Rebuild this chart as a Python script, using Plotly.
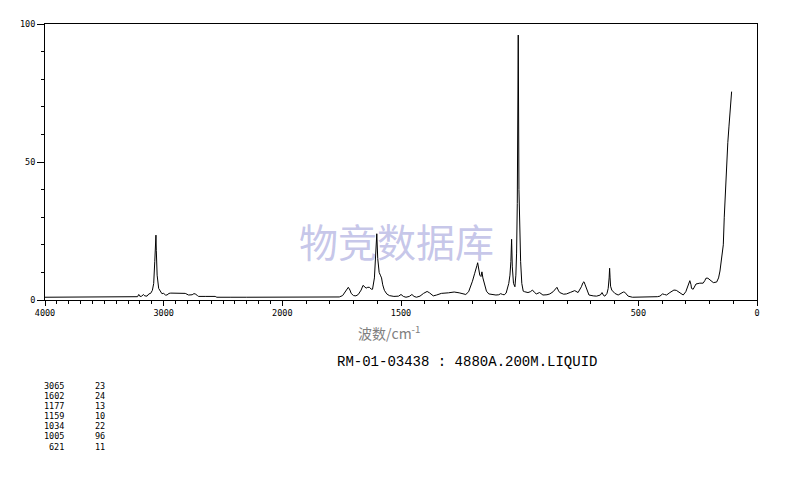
import plotly.graph_objects as go

# ---- spectrum data (wavenumber cm-1, relative intensity) ----
wavenumber = [4000, 3800, 3600, 3400, 3250, 3220, 3210, 3200, 3185, 3170, 3160, 3140, 3125, 3110, 3095,
              3084, 3075, 3068, 3065, 3062, 3055, 3042, 3030, 3023, 3015, 3000, 2985, 2972, 2955, 2940,
              2900, 2860, 2818, 2790, 2760, 2745, 2734, 2715, 2706, 2650, 2600, 2566, 2552, 2500, 2454,
              2440, 2300, 2100, 1900, 1800, 1760, 1746, 1735, 1722, 1715, 1710, 1700, 1690, 1680, 1668,
              1660, 1652, 1647, 1640, 1633, 1625, 1620, 1612, 1606, 1602, 1598, 1592, 1587, 1582, 1577,
              1570, 1560, 1549, 1530, 1510, 1500, 1490, 1479, 1465, 1454, 1445, 1435, 1420, 1405, 1390,
              1380, 1370, 1364, 1350, 1330, 1300, 1276, 1255, 1240, 1227, 1215, 1205, 1199, 1190, 1185,
              1180, 1177, 1172, 1168, 1163, 1159, 1155, 1150, 1145, 1140, 1130, 1116, 1100, 1088, 1080,
              1072, 1065, 1057, 1050, 1046, 1041, 1037, 1034, 1031, 1026, 1020, 1016, 1013, 1010, 1006,
              1003, 1000, 996, 991, 985, 979, 965, 955, 946, 938, 930, 916, 902, 885, 873,
              859, 850, 843, 836, 831, 815, 803, 785, 768, 754, 745, 740, 733, 729, 724,
              719, 708, 690, 676, 660, 653, 646, 641, 632, 627, 623, 621, 619, 617, 612,
              605, 599, 585, 571, 563, 557, 543, 525, 494, 480, 465, 450, 438, 420, 409,
              398, 390, 381, 367, 350, 340, 332, 320, 311, 300, 290, 283, 278, 276, 269,
              262, 257, 241, 227, 220, 215, 207, 201, 190, 184, 170, 162, 156, 150, 145,
              142, 138, 133, 128, 123, 118, 112, 107]
intensity = [1.0, 1.0, 1.0, 1.0, 1.0, 1.2, 2.0, 1.3, 1.4, 2.0, 1.5, 1.4, 2.2, 2.4, 3.5,
             6.0, 14, 22, 23.5, 18, 9, 4.2, 3.2, 3.0, 2.3, 2.4, 1.8, 1.8, 2.4, 2.5,
             2.5, 2.5, 2.4, 1.8, 1.9, 2.3, 2.2, 1.6, 1.3, 1.3, 1.3, 1.3, 1.0, 1.1, 1.2,
             1.0, 1.0, 1.0, 1.0, 1.0, 1.1, 1.6, 3.0, 4.6, 3.6, 2.4, 1.6, 1.5, 2.0, 3.6,
             5.3, 4.6, 4.3, 4.6, 4.6, 3.9, 3.9, 8, 16, 24, 15, 10, 9, 8, 5.5,
             3.5, 2.2, 1.6, 1.3, 1.4, 2.0, 1.3, 1.0, 1.3, 2.0, 1.3, 1.0, 1.4, 2.4, 3.1,
             2.6, 1.8, 1.5, 1.8, 2.4, 2.6, 2.9, 2.6, 2.4, 2.0, 3.0, 5.0, 6.8, 9.5, 10.7,
             12.5, 13.5, 11, 9, 8.5, 10.2, 8, 6, 4, 3.2, 2.2, 1.9, 1.8, 1.9, 2.3,
             2.0, 1.9, 2.5, 4.5, 6, 9, 14, 22, 12, 6, 4.8, 9, 17, 35, 96,
             40, 25, 14, 6, 3.2, 3.0, 2.7, 3.0, 3.6, 2.8, 2.2, 2.7, 1.8, 1.9, 2.2,
             3.0, 3.8, 4.6, 3.3, 2.7, 2.1, 2.2, 2.8, 3.4, 2.7, 3.8, 4.8, 6.3, 6.6, 5.5,
             4.2, 1.8, 1.5, 1.4, 1.8, 2.7, 1.6, 1.4, 2.4, 4.2, 8, 11.5, 8, 5, 3.6,
             2.8, 2.4, 1.8, 2.7, 2.9, 2.8, 1.4, 1.0, 1.0, 1.2, 1.2, 1.0, 1.0, 1.2, 1.4,
             2.2, 2.0, 1.8, 2.7, 3.6, 3.5, 3.0, 2.3, 1.8, 3.0, 5.4, 7.0, 5.5, 4.2, 3.9,
             4.8, 5.8, 6.1, 6.1, 7.0, 7.9, 7.9, 7.5, 6.6, 6.3, 6.5, 8.0, 10.5, 14, 17,
             20, 30, 41, 50, 57, 63, 70, 75.5]

# ---- axis ticks (wavenumbers) ----
x_major_wn = [4000, 3000, 2000, 1500, 500, 0]
x_major_text = ["4000", "3000", "2000", "1500", "500", "0"]
x_minor_wn = [w for w in range(100, 4000, 100) if w not in x_major_wn]
y_major = [0, 50, 100]
y_minor = [10, 20, 30, 40, 60, 70, 80, 90]

# ---- peak table ----
peak_wn = ["3065", "1602", "1177", "1159", "1034", "1005", "621"]
peak_int = ["23", "24", "13", "10", "22", "96", "11"]

title_text = "RM-01-03438 : 4880A.200M.LIQUID"
xlabel_text = "波数/cm<sup>-1</sup>"
watermark_text = "物竞数据库"


def to_axis(w):
    # scale change at 2000 cm-1: above 2000 the axis is compressed by a factor 2
    return w if w <= 2000 else 2000 + (w - 2000) / 2.0


u = [to_axis(w) for w in wavenumber]

fig = go.Figure()
fig.add_trace(go.Scatter(x=u, y=intensity, mode="lines",
                         line=dict(color="black", width=1), hoverinfo="skip"))

# page body has an 8px margin; compensate so the plot area lands at page x 45..757, y 24..300
OFF = 8
W, H = 794, 482
PL, PR, PT, PB = 45, 757, 24, 300          # plot area on the page
L, T = PL - OFF, PT - OFF
pw, ph = PR - PL, PB - PT
R = W - L - pw
B = H - T - ph


def px(xp):
    return (xp - PL) / pw


def py(yp):
    return (PB - yp) / ph


tickfont = dict(family="DejaVu Sans Mono", size=8.5, color="black")

fig.update_layout(
    width=W, height=H,
    margin=dict(l=L, r=R, t=T, b=B, pad=0),
    paper_bgcolor="white", plot_bgcolor="white",
    showlegend=False,
    xaxis=dict(
        range=[3000, 0], tickmode="array",
        tickvals=[to_axis(w) for w in x_major_wn], ticktext=x_major_text,
        ticks="outside", ticklen=5, tickwidth=1, tickcolor="black",
        showline=True, linecolor="black", linewidth=1, mirror=True,
        showgrid=False, zeroline=False, tickfont=tickfont,
        minor=dict(tickmode="array", tickvals=[to_axis(w) for w in x_minor_wn],
                   ticks="outside", ticklen=3, tickwidth=1, tickcolor="black", showgrid=False),
    ),
    yaxis=dict(
        range=[0, 100], tickmode="array", tickvals=y_major,
        ticktext=[str(v) for v in y_major],
        ticks="outside", ticklen=7, tickwidth=1, tickcolor="black",
        showline=True, linecolor="black", linewidth=1, mirror=True,
        showgrid=False, zeroline=False, tickfont=tickfont,
        minor=dict(tickmode="array", tickvals=y_minor, ticks="outside", ticklen=3,
                   tickwidth=1, tickcolor="black", showgrid=False),
    ),
)

ann = []
ann.append(dict(text=watermark_text, x=px(396), y=py(240), xref="paper", yref="paper",
                showarrow=False, xanchor="center", yanchor="middle",
                font=dict(family="Noto Sans CJK SC", size=39, color="rgba(150,150,215,0.55)")))
ann.append(dict(text=xlabel_text, x=px(389), y=py(332), xref="paper", yref="paper",
                showarrow=False, xanchor="center", yanchor="middle",
                font=dict(family="Noto Sans CJK SC", size=14, color="#808080")))
ann.append(dict(text=title_text, x=px(466.5), y=py(362), xref="paper", yref="paper",
                showarrow=False, xanchor="center", yanchor="middle",
                font=dict(family="Liberation Mono", size=14, color="black")))
for i, (a, b) in enumerate(zip(peak_wn, peak_int)):
    yy = py(386 + 10.1 * i)
    ann.append(dict(text=a, x=px(66), y=yy, xref="paper", yref="paper", showarrow=False,
                    xanchor="right", yanchor="middle",
                    font=dict(family="DejaVu Sans Mono", size=8.5, color="black")))
    ann.append(dict(text=b, x=px(107), y=yy, xref="paper", yref="paper", showarrow=False,
                    xanchor="right", yanchor="middle",
                    font=dict(family="DejaVu Sans Mono", size=8.5, color="black")))
fig.update_layout(annotations=ann)

fig.write_html("out.html", config={"displayModeBar": False})
